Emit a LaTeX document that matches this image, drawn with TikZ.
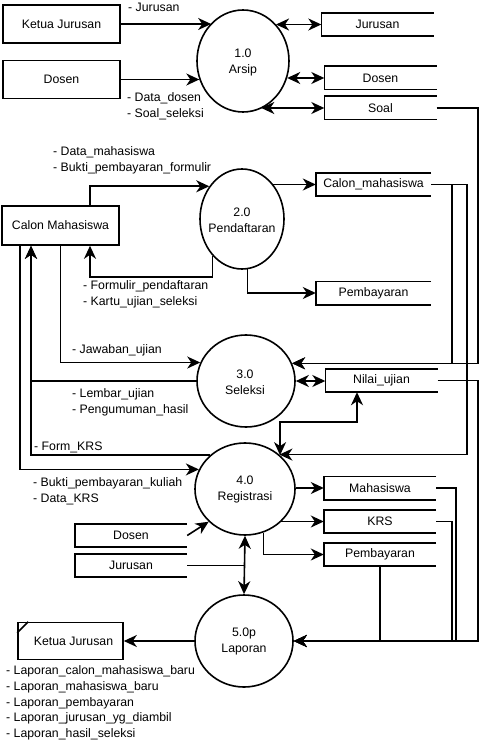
\documentclass[tikz,border=0pt]{standalone}
\usepackage{fontspec}
\setmainfont{Liberation Sans}
\usetikzlibrary{arrows.meta,shapes.geometric}
\begin{document}
\begin{tikzpicture}[x=1pt,y=-1pt,
  font=\fontsize{12.3}{16}\selectfont,
  ln/.style={line width=1.6pt},
  tip/.tip={Stealth[length=13pt,width=12pt,inset=4pt]},
  arr/.style={ln,-tip},
  darr/.style={ln,tip-tip},
  ent/.style={draw,ln,minimum width=117pt,minimum height=38pt,inner sep=0pt},
  proc/.style={draw,ln,ellipse,inner sep=0pt},
  ptext/.style={align=center,inner sep=0pt},
  store/.style={minimum width=112pt,minimum height=23pt,inner sep=0pt},
  lab/.style={anchor=west,inner sep=0pt,text height=9pt,text depth=3pt}]
\useasboundingbox (0,0) rectangle (481,743);

% external entities
\node[ent] (kj1) at (61.5,24) {Ketua Jurusan};
\node[ent] (dsn) at (61.5,79.5) {Dosen};
\node[ent,minimum height=39pt] (cm) at (60.5,225.5) {Calon Mahasiswa};
\node[ent,minimum width=105pt,minimum height=37pt] (kj2) at (70.5,641) {\hspace*{6pt}Ketua Jurusan};
\draw[ln] ([yshift=-11pt]kj2.north west) -- ([xshift=11pt]kj2.north west);

% processes
\node[proc,minimum width=92pt,minimum height=102pt] (p1) at (243,61) {};
\node[ptext] (p1t) at (243,62) {1.0\\Arsip};
\node[proc,minimum width=84pt,minimum height=100pt] (p2) at (242,219) {};
\node[ptext] (p2t) at (242,220.5) {2.0\\Pendaftaran};
\node[proc,minimum width=98pt,minimum height=92pt] (p3) at (246,381) {};
\node[ptext] (p3t) at (245,382.5) {3.0\\Seleksi};
\node[proc,minimum width=100pt,minimum height=92pt] (p4) at (245,489) {};
\node[ptext] (p4t) at (245,489.5) {4.0\\Registrasi};
\node[proc,minimum width=98pt,minimum height=92pt] (p5) at (244,641) {};
\node[ptext] (p5t) at (244,641.5) {5.0p\\Laporan};

% data stores
\node[store] (sJur) at (377.5,24.5) {Jurusan};
\node[store] (sDos) at (380.5,78) {Dosen};
\node[store] (sSoal) at (380.5,108) {Soal};
\node[store,minimum width=115pt] (sCm) at (373.5,184.5) {Calon\_mahasiswa};
\node[store,minimum width=115pt] (sPb1) at (373.5,293) {Pembayaran};
\node[store] (sNil) at (381.5,380.5) {Nilai\_ujian};
\node[store] (sMhs) at (380,488) {Mahasiswa};
\node[store] (sKrs) at (380,521.5) {KRS};
\node[store] (sPb2) at (380,554.5) {Pembayaran};
\node[store] (sDos2) at (131,535.5) {Dosen};
\node[store] (sJur2) at (131,565.5) {Jurusan};
\foreach \n in {sJur,sDos,sSoal,sCm,sPb1,sNil,sMhs,sKrs,sPb2,sDos2,sJur2}
  \draw[ln] (\n.north east) -- (\n.north west) -- (\n.south west) -- (\n.south east);

% flows around 1.0
\draw[arr] (kj1.east) -- (kj1.east -| p1.130.6);
\draw[arr] (dsn.east) -- (dsn.east -| p1.203.3);
\draw[darr] (sJur.west -| p1.48.7) -- (sJur.west);
\draw[darr] (sDos.west -| p1.-21.4) -- (sDos.west);
\draw[darr] (sSoal.west -| p1.-69.2) -- (sSoal.west);

% flows around 2.0
\draw[arr] ([xshift=29.5pt]cm.north) |- (p2.135);
\draw[arr] (p2.231) -- (p2.231 |- 0,277) -| ([xshift=29.5pt]cm.south);
\draw[arr] (sCm.west -| p2.48.6) -- (sCm.west);
\draw[arr] (p2.-84) |- (sPb1.west);

% flows around 3.0
\draw[arr] (cm.south) |- (p3.158.2);
\draw[arr] (p3.west) -| ([xshift=-29.5pt]cm.south);
\draw[arr] (sSoal.east) -- ++(41.5,0) |- (p3.21.8);
\draw[arr] (sCm.east) -- ++(21,0) |- (p3.21.8);
\draw[darr] (p3.east) -- (p3.east -| sNil.west);

% flows around 4.0
\draw[arr] (p4.136.5) -| ([xshift=-29.5pt]cm.south);
\draw[arr] ([xshift=-40.5pt]cm.south) |- (p4.157.3);
\draw[arr] (sCm.east) -- ++(36,0) |- (p4.45.3);
\draw[darr] ([xshift=-24.5pt]sNil.south) -- ([xshift=-24.5pt]sNil.south |- 0,422) -| (p4.44.7);
\draw[arr] (p4.east |- sMhs.west) -- (sMhs.west);
\draw[arr] (sKrs.west -| p4.-42.6) -- (sKrs.west);
\draw[arr] (p4.-67.2) |- (sPb2.west);
\draw[arr] (sDos2.east) -- (p4.222.6);
\draw[darr] (p4.south) -- (p5.north);
\draw[ln] (sJur2.east) -- (sJur2.east -| p4.south);

% flows around 5.0
\draw[arr] (sNil.east) -- ++(40.5,0) |- (p5.east);
\draw[arr] (sMhs.east) -- ++(20,0) |- (p5.east);
\draw[arr] (sKrs.east) -- ++(16,0) |- (p5.east);
\draw[arr] (sPb2.south) |- (p5.east);
\draw[arr] (p5.west) -- (kj2.east);

% flow labels
\node[lab] (l1) at (128,9) {- Jurusan};
\node[lab] (l2) at (127,99) {- Data\_dosen};
\node[lab] (l3) at (127,115) {- Soal\_seleksi};
\node[lab] (l4) at (53,153) {- Data\_mahasiswa};
\node[lab] (l5) at (53,169) {- Bukti\_pembayaran\_formulir};
\node[lab] (l6) at (83,286) {- Formulir\_pendaftaran};
\node[lab] (l7) at (83,302) {- Kartu\_ujian\_seleksi};
\node[lab] (l8) at (72,350) {- Jawaban\_ujian};
\node[lab] (l9) at (72,394) {- Lembar\_ujian};
\node[lab] (l10) at (72,410) {- Pengumuman\_hasil};
\node[lab] (l11) at (34,447) {- Form\_KRS};
\node[lab] (l12) at (33,483) {- Bukti\_pembayaran\_kuliah};
\node[lab] (l13) at (33,499) {- Data\_KRS};
\node[lab] (l14) at (6,671) {- Laporan\_calon\_mahasiswa\_baru};
\node[lab] (l15) at (6,687) {- Laporan\_mahasiswa\_baru};
\node[lab] (l16) at (6,703) {- Laporan\_pembayaran};
\node[lab] (l17) at (6,718) {- Laporan\_jurusan\_yg\_diambil};
\node[lab] (l18) at (6,734) {- Laporan\_hasil\_seleksi};
\end{tikzpicture}
\end{document}
